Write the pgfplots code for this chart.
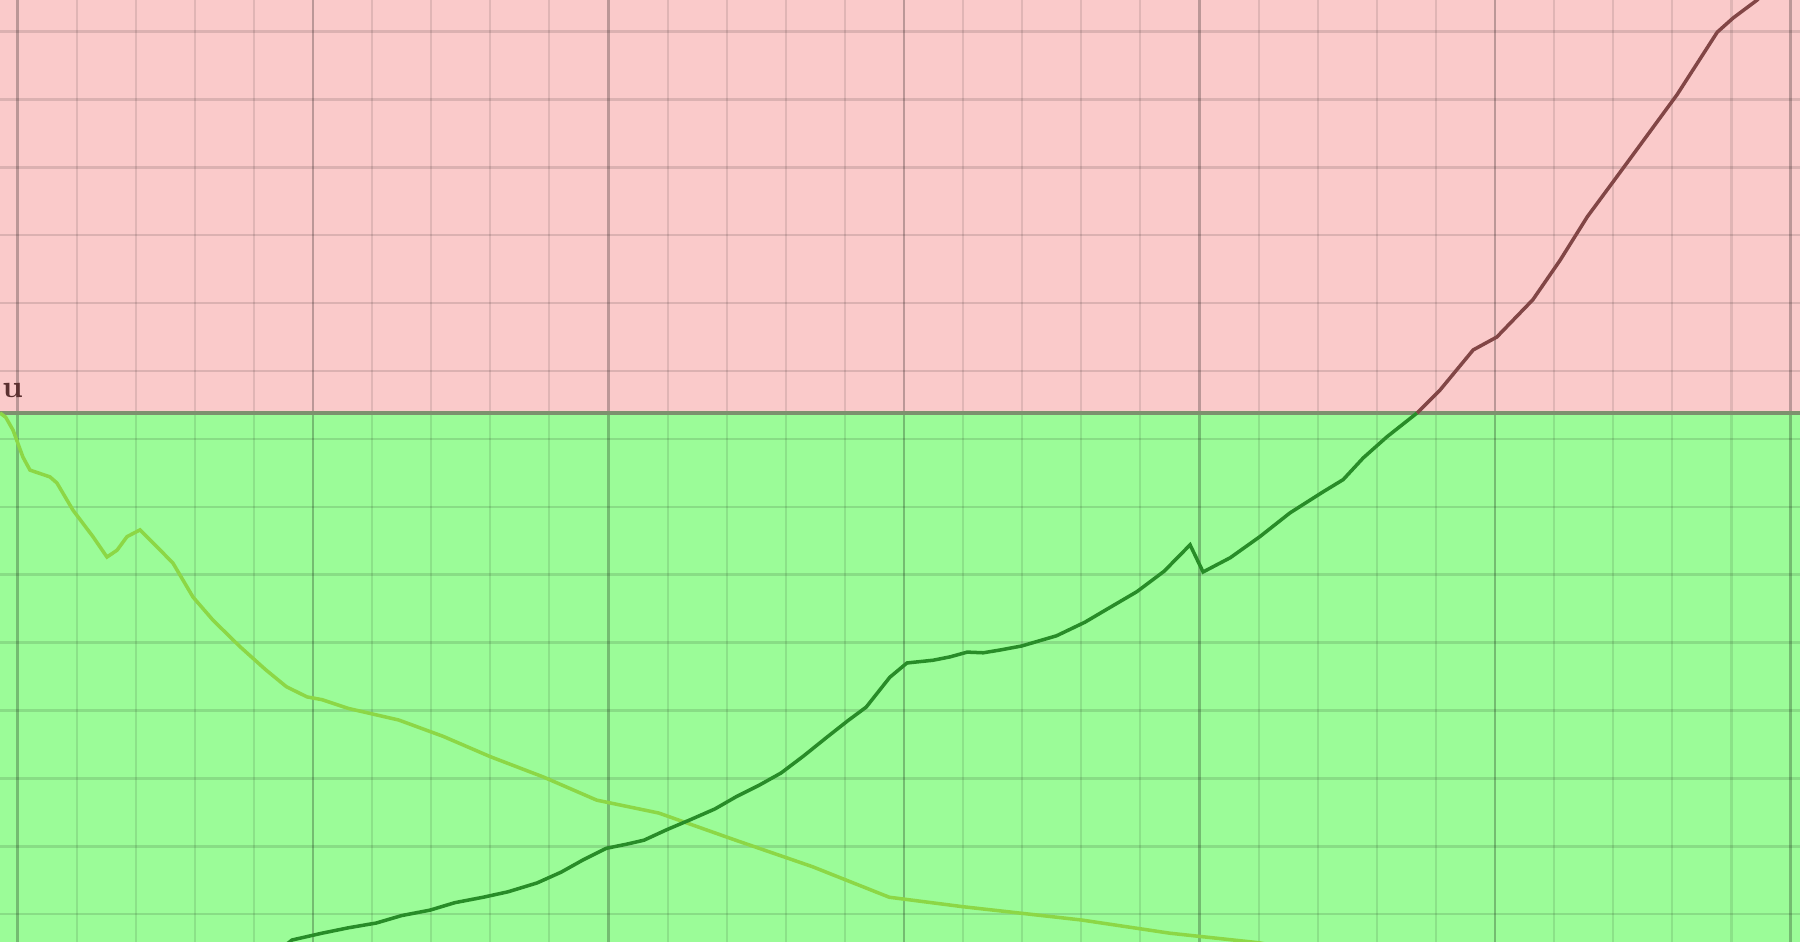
\documentclass[border=0pt]{standalone}
\usepackage{pgfplots}
\pgfplotsset{compat=1.18}
\definecolor{pinkbg}{RGB}{250,202,202}
\definecolor{greenbg}{RGB}{155,252,152}
\definecolor{lowline}{RGB}{40,140,40}
\definecolor{highline}{RGB}{130,70,70}
\definecolor{fallline}{RGB}{140,215,70}
\definecolor{limitline}{RGB}{125,145,110}
\begin{document}
\begin{tikzpicture}
\begin{axis}[
    set layers,
    scale only axis,
    width=18cm, height=9.42cm,
    xmin=-0.296, xmax=30.16,
    ymin=-0.409, ymax=13.464,
    axis line style={draw=none},
    major tick length=0pt, minor tick length=0pt,
    xtick={0,5,...,30}, minor x tick num=4,
    ytick={0,1,...,13},
    xticklabels={}, yticklabels={},
    grid=both,
    major x grid style={black, opacity=0.25, line width=0.8pt},
    minor x grid style={black, opacity=0.10, line width=0.6pt},
    major y grid style={black, opacity=0.12, line width=0.7pt},
    clip=true,
]
% zones
\addplot[fill=greenbg, draw=none, on layer=axis background]
    coordinates {(-0.296,-0.409) (30.16,-0.409) (30.16,7.381) (-0.296,7.381)} -- cycle;
\addplot[fill=pinkbg, draw=none, on layer=axis background]
    coordinates {(-0.296,7.381) (30.16,7.381) (30.16,13.464) (-0.296,13.464)} -- cycle;
% limit line
\addplot[limitline, line width=1.3pt] coordinates {(-0.296,7.381) (30.16,7.381)};
% falling series
\addplot[fallline, line width=1pt] coordinates {
(-0.296,7.381) (-0.2,7.32) (-0.076,7.13) (0.093,6.73) (0.212,6.54) (0.55,6.44)
(0.668,6.35) (0.939,5.95) (1.277,5.56) (1.514,5.26) (1.684,5.36) (1.853,5.56)
(2.073,5.66) (2.293,5.47) (2.631,5.17) (2.97,4.67) (3.308,4.33) (3.765,3.94)
(4.2,3.60) (4.55,3.35) (4.9,3.20) (5.15,3.16) (5.6,3.03) (6.45,2.86) (7.2,2.62)
(8.0,2.32) (8.9,2.02) (9.8,1.68) (10.85,1.49) (12.15,1.09) (13.45,0.70)
(14.75,0.25) (16.0,0.11) (18.0,-0.085) (19.5,-0.28) (21.0,-0.42) (21.5,-0.5)
};
% rising series, below the limit
\addplot[lowline, line width=1pt] coordinates {
(4.5,-0.48) (4.645,-0.38) (5.15,-0.28) (5.6,-0.20) (6.07,-0.13) (6.5,-0.02)
(6.98,0.06) (7.4,0.17) (7.88,0.25) (8.3,0.33) (8.79,0.46) (9.2,0.62) (9.57,0.80)
(9.96,0.97) (10.3,1.03) (10.6,1.09) (11.0,1.25) (11.38,1.39) (11.8,1.55)
(12.16,1.73) (12.55,1.90) (12.92,2.08) (13.3,2.33) (13.7,2.61) (14.05,2.85)
(14.36,3.05) (14.76,3.49) (15.05,3.70) (15.49,3.74) (15.78,3.79) (16.07,3.86)
(16.34,3.85) (16.62,3.89) (16.99,3.95) (17.58,4.10) (18.06,4.30) (18.45,4.50)
(18.94,4.75) (19.4,5.05) (19.84,5.44) (20.06,5.04) (20.52,5.25) (21.02,5.56)
(21.53,5.91) (22.09,6.22) (22.43,6.40) (22.77,6.72) (23.17,7.03) (23.68,7.381)
};
% rising series, above the limit
\addplot[highline, line width=1pt] coordinates {
(23.68,7.381) (24.07,7.72) (24.63,8.31) (25.03,8.50) (25.64,9.05) (26.1,9.63)
(26.56,10.27) (27.17,10.99) (27.6,11.5) (28.08,12.07) (28.76,12.99) (29.03,13.2)
(29.43,13.46) (29.6,13.6)
};
\node[anchor=west, inner sep=0pt, font=\bfseries\small, text=highline!70!black]
    at (axis cs:-0.27,7.72) {u};
\end{axis}
\pgfresetboundingbox
\path[use as bounding box] (current axis.south west) rectangle (current axis.north east);
\end{tikzpicture}
\end{document}
